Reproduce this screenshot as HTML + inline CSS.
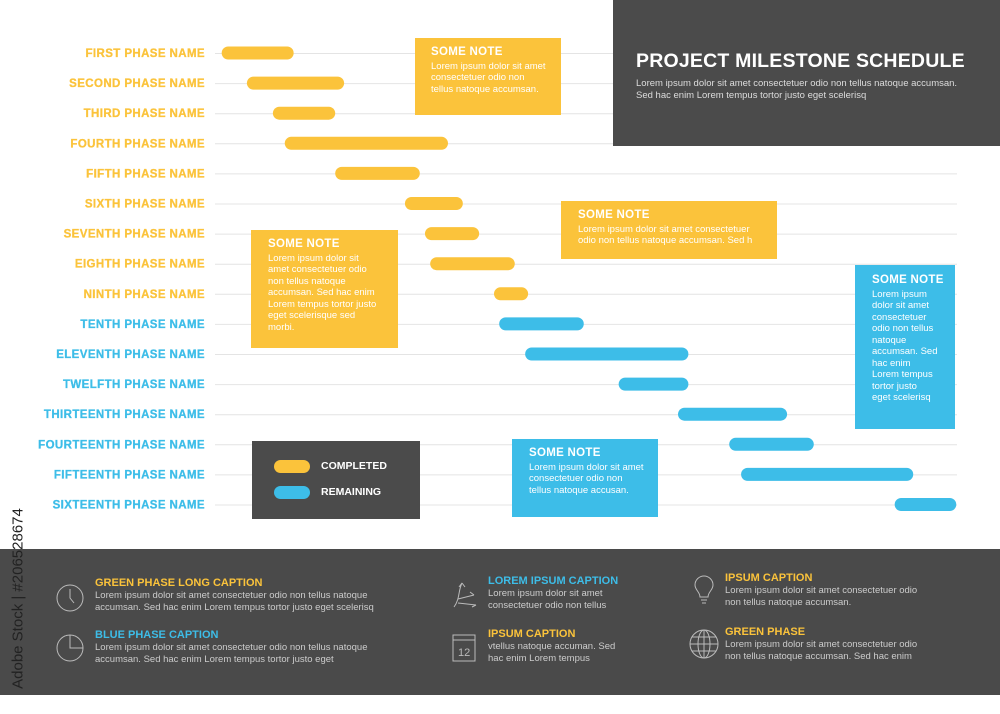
<!DOCTYPE html>
<html><head><meta charset="utf-8"><style>
body{margin:0;width:1000px;height:695px;position:relative;overflow:hidden;background:#fff;font-family:"Liberation Sans",sans-serif}
.abs{position:absolute}
.note{position:absolute;color:#fff;font-size:9.5px;line-height:11.5px;box-sizing:border-box}
.note b{display:block;font-size:11.5px;margin-bottom:2px;letter-spacing:.3px;white-space:nowrap}
.cap{position:absolute;color:#ccc;font-size:9.5px;line-height:12px}
.cap b{display:block;font-size:11px;margin-bottom:1px}
.Y{color:#fbc33b}.B{color:#3dbde8}
</style></head><body>
<svg id="chart" class="abs" style="left:0;top:0" width="1000" height="550"></svg>

<div class="abs" style="left:613px;top:0;width:387px;height:146px;background:#4b4b4b;color:#fff">
<div style="position:absolute;left:23px;top:50px;font-weight:bold;font-size:19.5px;letter-spacing:.2px;white-space:nowrap">PROJECT MILESTONE SCHEDULE</div>
<div style="position:absolute;left:23px;top:78px;font-size:9.5px;line-height:12px;color:#ddd;white-space:nowrap">Lorem ipsum dolor sit amet consectetuer odio non tellus natoque accumsan.<br>Sed hac enim Lorem tempus tortor justo eget scelerisq</div>
</div>

<div class="note" style="left:415px;top:38px;width:146px;height:77px;background:#fbc33b;padding:9px 4px 0 16px"><b>SOME NOTE</b>Lorem ipsum dolor sit amet<br>consectetuer odio non<br>tellus natoque accumsan.</div>
<div class="note" style="left:561px;top:201px;width:216px;height:58px;background:#fbc33b;padding:9px 4px 0 17px"><b>SOME NOTE</b>Lorem ipsum dolor sit amet consectetuer<br>odio non tellus natoque accumsan. Sed h</div>
<div class="note" style="left:251px;top:230px;width:147px;height:118px;background:#fbc33b;padding:9px 4px 0 17px"><b>SOME NOTE</b>Lorem ipsum dolor sit<br>amet consectetuer odio<br>non tellus natoque<br>accumsan. Sed hac enim<br>Lorem tempus tortor justo<br>eget scelerisque sed<br>morbi.</div>
<div class="note" style="left:855px;top:265px;width:100px;height:164px;background:#3dbde8;padding:10px 2px 0 17px"><b>SOME NOTE</b>Lorem ipsum<br>dolor sit amet<br>consectetuer<br>odio non tellus<br>natoque<br>accumsan. Sed<br>hac enim<br>Lorem tempus<br>tortor justo<br>eget scelerisq</div>
<div class="note" style="left:512px;top:439px;width:146px;height:78px;background:#3dbde8;padding:9px 2px 0 17px"><b>SOME NOTE</b>Lorem ipsum dolor sit amet<br>consectetuer odio non<br>tellus natoque accusan.</div>

<div class="abs" style="left:252px;top:441px;width:168px;height:78px;background:#4b4b4b">
<div class="abs" style="left:22px;top:19px;width:36px;height:13px;border-radius:7px;background:#fbc33b"></div>
<div class="abs" style="left:69px;top:19px;color:#fff;font-weight:bold;font-size:10.5px">COMPLETED</div>
<div class="abs" style="left:22px;top:45px;width:36px;height:13px;border-radius:7px;background:#3dbde8"></div>
<div class="abs" style="left:69px;top:45px;color:#fff;font-weight:bold;font-size:10.5px">REMAINING</div>
</div>

<div class="abs" style="left:0;top:549px;width:1000px;height:146px;background:#4a4a4a">
<svg class="abs" style="left:55px;top:34px" width="32" height="32"><circle cx="15" cy="15" r="13" fill="none" stroke="#bbb"/><path d="M15 6V15L19 20" fill="none" stroke="#bbb"/></svg>
<svg class="abs" style="left:55px;top:84px" width="32" height="32"><circle cx="15" cy="15" r="13" fill="none" stroke="#bbb"/><path d="M15 2V15H28" fill="none" stroke="#bbb"/></svg>
<svg class="abs" style="left:450px;top:30px" width="30" height="32"><path d="M4 28C10 20 8 12 12 4M12 4l-3 4M12 4l3 4M8 20l16-4M24 16l-4-3M8 24l18 2M26 26l-4 2" fill="none" stroke="#bbb"/></svg>
<svg class="abs" style="left:450px;top:82px" width="30" height="34"><rect x="3" y="4" width="22" height="26" fill="none" stroke="#bbb"/><line x1="3" y1="9" x2="25" y2="9" stroke="#bbb"/><text x="8" y="25" fill="#bbb" font-size="11" font-family="Liberation Sans">12</text></svg>
<svg class="abs" style="left:692px;top:26px" width="24" height="32"><path d="M8 22C8 17 3 15 3 10a9 9 0 0 1 18 0c0 5-5 7-5 12zM9 25h6M10 28h4" fill="none" stroke="#bbb"/></svg>
<svg class="abs" style="left:688px;top:79px" width="32" height="32"><circle cx="16" cy="16" r="14" fill="none" stroke="#bbb"/><ellipse cx="16" cy="16" rx="6" ry="14" fill="none" stroke="#bbb"/><path d="M2 16h28M4 9h24M4 23h24M16 2v28" fill="none" stroke="#bbb"/></svg>
<div class="cap" style="left:95px;top:28px"><b class="Y">GREEN PHASE LONG CAPTION</b>Lorem ipsum dolor sit amet consectetuer odio non tellus natoque<br>accumsan. Sed hac enim Lorem tempus tortor justo eget scelerisq</div>
<div class="cap" style="left:95px;top:80px"><b class="B">BLUE PHASE CAPTION</b>Lorem ipsum dolor sit amet consectetuer odio non tellus natoque<br>accumsan. Sed hac enim Lorem tempus tortor justo eget</div>
<div class="cap" style="left:488px;top:26px"><b class="B">LOREM IPSUM CAPTION</b>Lorem ipsum dolor sit amet<br>consectetuer odio non tellus</div>
<div class="cap" style="left:488px;top:79px"><b class="Y">IPSUM CAPTION</b>vtellus natoque accuman. Sed<br>hac enim Lorem tempus</div>
<div class="cap" style="left:725px;top:23px"><b class="Y">IPSUM CAPTION</b>Lorem ipsum dolor sit amet consectetuer odio<br>non tellus natoque accumsan.</div>
<div class="cap" style="left:725px;top:77px"><b class="Y">GREEN PHASE</b>Lorem ipsum dolor sit amet consectetuer odio<br>non tellus natoque accumsan. Sed hac enim</div>
</div>
<div class="abs" style="left:-97px;top:590px;width:230px;transform:rotate(-90deg);color:#222;font-size:15px;white-space:nowrap;text-align:center">Adobe Stock | #206528674</div>

<script>
const phases=["FIRST","SECOND","THIRD","FOURTH","FIFTH","SIXTH","SEVENTH","EIGHTH","NINTH","TENTH","ELEVENTH","TWELFTH","THIRTEENTH","FOURTEENTH","FIFTEENTH","SIXTEENTH"];
const starts=[0.9,4.3,7.8,9.4,16.2,25.6,28.3,29.0,37.6,38.3,41.8,54.4,62.4,69.3,70.9,91.6];
const ends=[10.6,17.4,16.2,31.4,27.6,33.4,35.6,40.4,42.2,49.7,63.8,63.8,77.1,80.7,94.1,99.9];
const status=["done","done","done","done","done","done","done","done","done","todo","todo","todo","todo","todo","todo","todo"];
const NS="http://www.w3.org/2000/svg";
const svg=document.getElementById('chart');
const xS=v=>215+v*7.42;
const yS=i=>53+i*30.1;
const col=s=>s==="done"?"#fbc33b":"#3dbde8";
phases.forEach((p,i)=>{
  const ln=document.createElementNS(NS,'line');
  ln.setAttribute('x1',215);ln.setAttribute('x2',957);ln.setAttribute('y1',yS(i)+0.5);ln.setAttribute('y2',yS(i)+0.5);
  ln.setAttribute('stroke','#e4e4e4');
  
  
  svg.appendChild(ln);
  const t=document.createElementNS(NS,'text');
  t.setAttribute('x',205);t.setAttribute('y',yS(i)+4);t.setAttribute('text-anchor','end');
  t.setAttribute('font-size','11.5');t.setAttribute('font-weight','bold');t.setAttribute('font-family','Liberation Sans, sans-serif');
  t.setAttribute('fill',col(status[i]));t.setAttribute('letter-spacing','0.4');
  t.setAttribute('stroke',col(status[i]));t.setAttribute('stroke-width','0.3');
  t.textContent=p+" PHASE NAME";
  
  
  svg.appendChild(t);
  const r=document.createElementNS(NS,'rect');
  r.setAttribute('x',xS(starts[i]));r.setAttribute('y',yS(i)-6.5);
  r.setAttribute('width',xS(ends[i])-xS(starts[i]));r.setAttribute('height',13);
  r.setAttribute('rx',6.5);r.setAttribute('fill',col(status[i]));
  
  
  svg.appendChild(r);
});
</script>
</body></html>
